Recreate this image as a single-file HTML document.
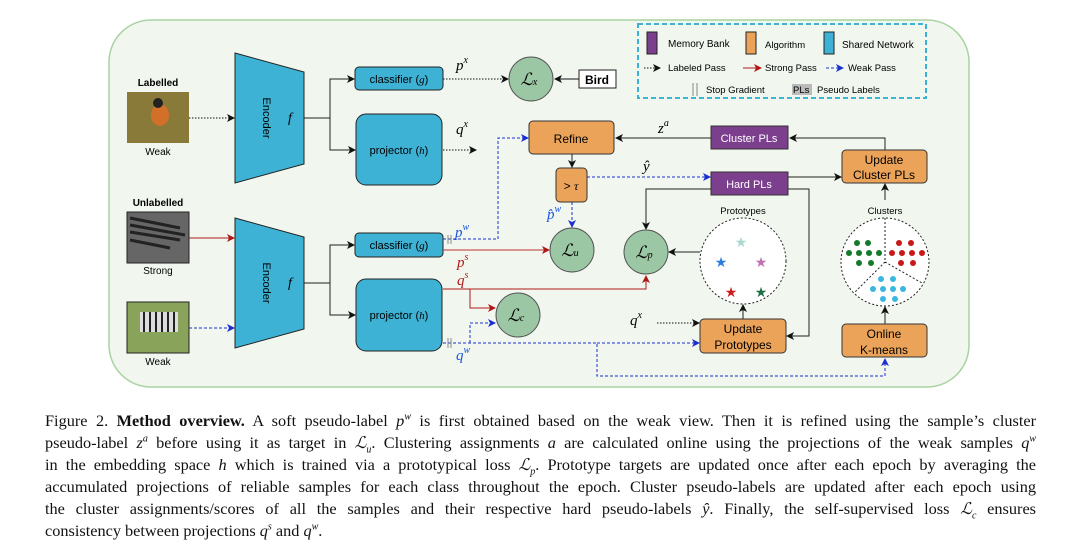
<!DOCTYPE html>
<html><head><meta charset="utf-8"><style>
body{margin:0;width:1077px;height:547px;background:#fff;overflow:hidden;position:relative;font-family:"Liberation Sans",sans-serif}
.cap{position:absolute;left:45px;width:991px;font-family:"Liberation Serif",serif;font-size:16.3px;color:#111;line-height:22px}
.cap div{text-align:justify;text-align-last:justify;white-space:nowrap;height:22px}
.cap div.l{text-align-last:left}
.cap sup,.cap sub{font-size:10px;line-height:0}
i{font-style:italic}
</style></head><body>
<svg width="1077" height="400" style="position:absolute;left:0;top:0" font-family="Liberation Sans, sans-serif">
<defs>
<marker id="ak" markerWidth="8" markerHeight="8" refX="7" refY="4" orient="auto" markerUnits="userSpaceOnUse"><path d="M0,0L8,4L0,8L2,4z" fill="#111"/></marker>
<marker id="ar" markerWidth="8" markerHeight="8" refX="7" refY="4" orient="auto" markerUnits="userSpaceOnUse"><path d="M0,0L8,4L0,8L2,4z" fill="#b01818"/></marker>
<marker id="ab" markerWidth="8" markerHeight="8" refX="7" refY="4" orient="auto" markerUnits="userSpaceOnUse"><path d="M0,0L8,4L0,8L2,4z" fill="#1a2fd0"/></marker>
</defs>
<rect x="109" y="20" width="860" height="367" rx="42" fill="#f1f7ef" stroke="#a9d3a2" stroke-width="1.5"/>
<rect x="638" y="24" width="288" height="74" fill="none" stroke="#3bb3d6" stroke-width="2" stroke-dasharray="5,3"/>
<rect x="647" y="32" width="10" height="22" fill="#7b3f8e" stroke="#222"/>
<text x="668" y="47" font-size="10">Memory Bank</text>
<rect x="746" y="32" width="10" height="22" fill="#eba35a" stroke="#222"/>
<text x="765" y="48" font-size="9.5">Algorithm</text>
<rect x="824" y="32" width="10" height="22" fill="#3eb2d4" stroke="#222"/>
<text x="842" y="48" font-size="10">Shared Network</text>
<line x1="644" y1="68" x2="660" y2="68" stroke="#111" stroke-dasharray="1.5,1.5" marker-end="url(#ak)"/>
<text x="668" y="71" font-size="9.5">Labeled Pass</text>
<line x1="743" y1="68" x2="761" y2="68" stroke="#b01818" marker-end="url(#ar)"/>
<text x="765" y="71" font-size="9.5">Strong Pass</text>
<line x1="826" y1="68" x2="843" y2="68" stroke="#1a2fd0" stroke-dasharray="3,2" marker-end="url(#ab)"/>
<text x="848" y="71" font-size="9.5">Weak Pass</text>
<line x1="693" y1="83" x2="693" y2="96" stroke="#888"/><line x1="697" y1="83" x2="697" y2="96" stroke="#888"/>
<text x="706" y="93" font-size="9.5">Stop Gradient</text>
<rect x="792" y="84" width="20" height="11" fill="#bbb"/>
<text x="793" y="93" font-size="9.5">PLs</text>
<text x="817" y="93" font-size="9.5">Pseudo Labels</text>
<text x="158" y="86" font-size="10" font-weight="bold" text-anchor="middle">Labelled</text>
<rect x="127" y="92" width="62" height="51" fill="#8a7a3a"/><ellipse cx="160" cy="115" rx="9" ry="11" fill="#d2702a"/><circle cx="158" cy="103" r="5" fill="#222"/>
<text x="158" y="155" font-size="10" text-anchor="middle">Weak</text>
<text x="158" y="206" font-size="10" font-weight="bold" text-anchor="middle">Unlabelled</text>
<rect x="127" y="212" width="62" height="51" fill="#666" stroke="#222"/><path d="M130,218 l50,10 M130,225 l55,10 M130,232 l50,8 M130,240 l40,8" stroke="#222" stroke-width="3"/>
<text x="158" y="274" font-size="10" text-anchor="middle">Strong</text>
<rect x="127" y="302" width="62" height="51" fill="#8aa35a" stroke="#222"/><rect x="140" y="312" width="38" height="20" fill="#ddd"/><path d="M144,312v20M150,312v20M156,312v20M162,312v20M168,312v20M174,312v20" stroke="#222" stroke-width="2"/>
<text x="158" y="365" font-size="10" text-anchor="middle">Weak</text>
<line x1="189" y1="118" x2="234" y2="118" stroke="#111" stroke-dasharray="1.5,1.5" marker-end="url(#ak)"/>
<line x1="189" y1="238" x2="234" y2="238" stroke="#b01818" marker-end="url(#ar)"/>
<line x1="189" y1="328" x2="234" y2="328" stroke="#1a2fd0" stroke-dasharray="3,2" marker-end="url(#ab)"/>
<polygon points="235,53 304,72 304,164 235,183" fill="#3eb2d4" stroke="#222"/>
<polygon points="235,218 304,237 304,329 235,348" fill="#3eb2d4" stroke="#222"/>
<text transform="translate(263,118) rotate(90)" font-size="11" text-anchor="middle">Encoder</text>
<text transform="translate(263,283) rotate(90)" font-size="11" text-anchor="middle">Encoder</text>
<text x="288" y="122" font-size="14" font-style="italic" font-family="Liberation Serif">f</text>
<text x="288" y="287" font-size="14" font-style="italic" font-family="Liberation Serif">f</text>
<path d="M304,118H330V79H354 M330,118V150H355" fill="none" stroke="#222" marker-end="url(#ak)"/>
<line x1="330" y1="79" x2="354" y2="79" stroke="#222" marker-end="url(#ak)"/>
<path d="M304,283H330V245H354" fill="none" stroke="#222" marker-end="url(#ak)"/>
<path d="M330,283V315H355" fill="none" stroke="#222" marker-end="url(#ak)"/>
<rect x="355" y="67" width="88" height="23" rx="4" fill="#3eb2d4" stroke="#222"/>
<text x="399" y="83" font-size="11" text-anchor="middle">classifier (<tspan font-style="italic" font-family="Liberation Serif">g</tspan>)</text>
<rect x="356" y="114" width="86" height="71" rx="10" fill="#3eb2d4" stroke="#222"/>
<text x="399" y="154" font-size="11" text-anchor="middle">projector (<tspan font-style="italic" font-family="Liberation Serif">h</tspan>)</text>
<rect x="355" y="233" width="88" height="24" rx="4" fill="#3eb2d4" stroke="#222"/>
<text x="399" y="249" font-size="11" text-anchor="middle">classifier (<tspan font-style="italic" font-family="Liberation Serif">g</tspan>)</text>
<rect x="356" y="279" width="86" height="72" rx="10" fill="#3eb2d4" stroke="#222"/>
<text x="399" y="319" font-size="11" text-anchor="middle">projector (<tspan font-style="italic" font-family="Liberation Serif">h</tspan>)</text>
<g font-family="Liberation Serif" font-style="italic" font-size="15">
<text x="456" y="70">p<tspan font-size="10" dy="-7">x</tspan></text>
<text x="456" y="134">q<tspan font-size="10" dy="-7">x</tspan></text>
<text x="455" y="237" fill="#1a55e0">p<tspan font-size="10" dy="-7">w</tspan></text>
<text x="457" y="267" fill="#b01818">p<tspan font-size="10" dy="-7">s</tspan></text>
<text x="457" y="285" fill="#b01818">q<tspan font-size="10" dy="-7">s</tspan></text>
<text x="456" y="360" fill="#1a55e0">q<tspan font-size="10" dy="-7">w</tspan></text>
<text x="547" y="219" fill="#1a55e0">p̂<tspan font-size="10" dy="-7">w</tspan></text>
<text x="658" y="133">z<tspan font-size="10" dy="-7">a</tspan></text>
<text x="643" y="171">ŷ</text>
<text x="630" y="325">q<tspan font-size="10" dy="-7">x</tspan></text>
</g>
<line x1="443" y1="79" x2="508" y2="79" stroke="#111" stroke-dasharray="1.5,1.5" marker-end="url(#ak)"/>
<line x1="443" y1="150" x2="476" y2="150" stroke="#111" stroke-dasharray="1.5,1.5" marker-end="url(#ak)"/>
<line x1="579" y1="79" x2="555" y2="79" stroke="#111" marker-end="url(#ak)"/>
<path d="M443,239H498V138H528" fill="none" stroke="#1a2fd0" stroke-dasharray="3,2" marker-end="url(#ab)"/>
<line x1="448" y1="235" x2="448" y2="244" stroke="#888"/><line x1="451" y1="235" x2="451" y2="244" stroke="#888"/>
<line x1="443" y1="250" x2="549" y2="250" stroke="#c03030" marker-end="url(#ar)"/>
<path d="M443,289H646V276" fill="none" stroke="#b01818" marker-end="url(#ar)"/>
<path d="M470,289V308H495" fill="none" stroke="#b01818" marker-end="url(#ar)"/>
<path d="M443,343H597V376H885V359" fill="none" stroke="#1a2fd0" stroke-dasharray="3,2" marker-end="url(#ab)"/>
<path d="M470,343V323H495" fill="none" stroke="#1a2fd0" stroke-dasharray="3,2" marker-end="url(#ab)"/>
<path d="M597,343H699" fill="none" stroke="#1a2fd0" stroke-dasharray="3,2" marker-end="url(#ab)"/>
<line x1="448" y1="338" x2="448" y2="348" stroke="#888"/><line x1="451" y1="338" x2="451" y2="348" stroke="#888"/>
<line x1="572" y1="154" x2="572" y2="167" stroke="#222" marker-end="url(#ak)"/>
<line x1="572" y1="202" x2="572" y2="227" stroke="#1a2fd0" stroke-dasharray="3,2" marker-end="url(#ab)"/>
<line x1="587" y1="177" x2="710" y2="177" stroke="#1a2fd0" stroke-dasharray="3,2" marker-end="url(#ab)"/>
<line x1="711" y1="138" x2="616" y2="138" stroke="#222" marker-end="url(#ak)"/>
<path d="M885,150V138H790" fill="none" stroke="#222" marker-end="url(#ak)"/>
<line x1="788" y1="177" x2="841" y2="177" stroke="#222" marker-end="url(#ak)"/>
<path d="M711,189H646V229" fill="none" stroke="#222" marker-end="url(#ak)"/>
<path d="M788,189H809V336H787" fill="none" stroke="#222" marker-end="url(#ak)"/>
<line x1="700" y1="252" x2="669" y2="252" stroke="#222" marker-end="url(#ak)"/>
<line x1="743" y1="319" x2="743" y2="305" stroke="#222" marker-end="url(#ak)"/>
<line x1="657" y1="323" x2="699" y2="323" stroke="#111" stroke-dasharray="1.5,1.5" marker-end="url(#ak)"/>
<line x1="885" y1="200" x2="885" y2="184" stroke="#222" marker-end="url(#ak)"/>
<line x1="885" y1="324" x2="885" y2="307" stroke="#222" marker-end="url(#ak)"/>
<g fill="#9cc7a5" stroke="#555">
<circle cx="531" cy="79" r="22"/><circle cx="572" cy="250" r="22"/><circle cx="646" cy="252" r="22"/><circle cx="518" cy="315" r="22"/>
</g>
<g font-family="Liberation Serif" font-style="italic" font-size="17" text-anchor="middle">
<text x="529" y="85">ℒ<tspan font-size="10">x</tspan></text>
<text x="570" y="256">ℒ<tspan font-size="10">u</tspan></text>
<text x="644" y="258">ℒ<tspan font-size="10">p</tspan></text>
<text x="516" y="321">ℒ<tspan font-size="10">c</tspan></text>
</g>
<rect x="579" y="70" width="37" height="18" fill="#fff" stroke="#222"/>
<text x="597" y="84" font-size="12" font-weight="bold" text-anchor="middle">Bird</text>
<g fill="#eba35a" stroke="#333">
<rect x="529" y="121" width="85" height="33" rx="4"/><rect x="556" y="168" width="31" height="34" rx="4"/>
<rect x="842" y="150" width="85" height="33" rx="4"/><rect x="700" y="319" width="86" height="34" rx="4"/><rect x="842" y="324" width="85" height="33" rx="4"/>
</g>
<text x="571" y="143" font-size="12" text-anchor="middle">Refine</text>
<text x="571" y="190" font-size="12" text-anchor="middle">&gt; <tspan font-family="Liberation Serif" font-style="italic">τ</tspan></text>
<text x="884" y="164" font-size="12" text-anchor="middle">Update</text><text x="884" y="179" font-size="12" text-anchor="middle">Cluster PLs</text>
<text x="743" y="333" font-size="12" text-anchor="middle">Update</text><text x="743" y="349" font-size="12" text-anchor="middle">Prototypes</text>
<text x="884" y="338" font-size="12" text-anchor="middle">Online</text><text x="884" y="354" font-size="12" text-anchor="middle">K-means</text>
<rect x="711" y="126" width="77" height="23" fill="#7b3f8e" stroke="#333"/>
<text x="749" y="142" font-size="11" fill="#fff" text-anchor="middle">Cluster PLs</text>
<rect x="711" y="172" width="77" height="23" fill="#7b3f8e" stroke="#333"/>
<text x="749" y="188" font-size="11" fill="#fff" text-anchor="middle">Hard PLs</text>
<circle cx="743" cy="261" r="43" fill="#fff" stroke="#222" stroke-dasharray="2,2"/>
<text x="743" y="214" font-size="9.5" text-anchor="middle">Prototypes</text>
<g font-size="14" text-anchor="middle">
<text x="741" y="247" fill="#a8d8d0">★</text><text x="721" y="267" fill="#2a7de0">★</text><text x="761" y="267" fill="#c070b0">★</text>
<text x="731" y="297" fill="#d01818">★</text><text x="761" y="297" fill="#1a7040">★</text></g>
<text x="885" y="214" font-size="9.5" text-anchor="middle">Clusters</text>
<circle cx="885" cy="262" r="44" fill="#fff" stroke="#222" stroke-dasharray="2,2"/>
<path d="M885,218V262L922,283M885,262L854,293" fill="none" stroke="#222" stroke-dasharray="2,2"/>
<g fill="#137a2a"><circle cx="857" cy="243" r="3"/><circle cx="868" cy="243" r="3"/><circle cx="849" cy="253" r="3"/><circle cx="859" cy="253" r="3"/><circle cx="869" cy="253" r="3"/><circle cx="879" cy="253" r="3"/><circle cx="859" cy="263" r="3"/><circle cx="871" cy="263" r="3"/></g>
<g fill="#c81818"><circle cx="899" cy="243" r="3"/><circle cx="911" cy="243" r="3"/><circle cx="892" cy="253" r="3"/><circle cx="902" cy="253" r="3"/><circle cx="912" cy="253" r="3"/><circle cx="922" cy="253" r="3"/><circle cx="901" cy="263" r="3"/><circle cx="913" cy="263" r="3"/></g>
<g fill="#3ab7e0"><circle cx="881" cy="279" r="3"/><circle cx="893" cy="279" r="3"/><circle cx="873" cy="289" r="3"/><circle cx="883" cy="289" r="3"/><circle cx="893" cy="289" r="3"/><circle cx="903" cy="289" r="3"/><circle cx="883" cy="299" r="3"/><circle cx="895" cy="299" r="3"/></g>
</svg>
<div class="cap" style="top:410px">
<div>Figure 2. <b>Method overview.</b> A soft pseudo-label <i>p<sup>w</sup></i> is first obtained based on the weak view. Then it is refined using the sample’s cluster</div>
<div>pseudo-label <i>z<sup>a</sup></i> before using it as target in <i>ℒ<sub>u</sub></i>. Clustering assignments <i>a</i> are calculated online using the projections of the weak samples <i>q<sup>w</sup></i></div>
<div>in the embedding space <i>h</i> which is trained via a prototypical loss <i>ℒ<sub>p</sub></i>. Prototype targets are updated once after each epoch by averaging the</div>
<div>accumulated projections of reliable samples for each class throughout the epoch. Cluster pseudo-labels are updated after each epoch using</div>
<div>the cluster assignments/scores of all the samples and their respective hard pseudo-labels <i>ŷ</i>. Finally, the self-supervised loss <i>ℒ<sub>c</sub></i> ensures</div>
<div class="l">consistency between projections <i>q<sup>s</sup></i> and <i>q<sup>w</sup></i>.</div>
</div>
</body></html>
